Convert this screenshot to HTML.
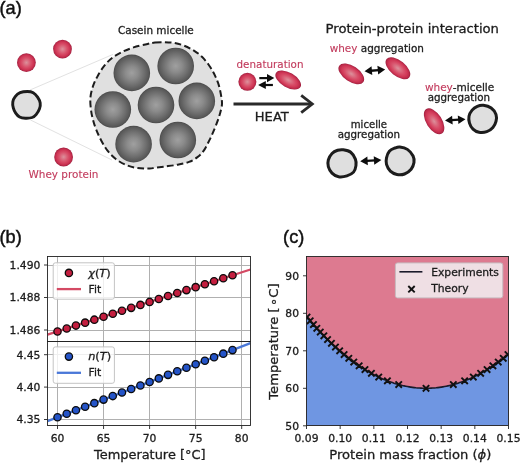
<!DOCTYPE html>
<html lang="en"><head><meta charset="utf-8"><title>Figure</title>
<style>
html,body{margin:0;padding:0;background:#fff;}
body{width:520px;height:463px;overflow:hidden;}
svg{display:block;filter:blur(0.45px);}
text{font-family:"DejaVu Sans","Liberation Sans",sans-serif;stroke-width:0.3px;}
text[stroke="#c23a5c"],tspan[stroke="#c23a5c"]{stroke-width:0.12px;}
.lab{font-family:"Liberation Sans",sans-serif;font-size:18.2px;fill:#111;stroke:#111;stroke-width:0.45px;}
</style></head><body>
<svg width="520" height="463" viewBox="0 0 520 463">
<defs>
<radialGradient id="gr" cx="50%" cy="50%" r="50%">
<stop offset="0" stop-color="#dc919c"/><stop offset="0.2" stop-color="#db7788"/><stop offset="0.5" stop-color="#d8506a"/><stop offset="0.75" stop-color="#d03756"/><stop offset="0.9" stop-color="#bc2a4a"/><stop offset="1" stop-color="#9c1f3e"/>
</radialGradient>
<radialGradient id="gg" cx="50%" cy="50%" r="50%">
<stop offset="0" stop-color="#a0a0a0"/><stop offset="0.35" stop-color="#8b8b8b"/><stop offset="0.7" stop-color="#6d6d6d"/><stop offset="0.93" stop-color="#585858"/><stop offset="1" stop-color="#484848"/>
</radialGradient>
<clipPath id="cb1"><rect x="47.5" y="256.5" width="203" height="85"/></clipPath>
<clipPath id="cb2"><rect x="47.5" y="341.5" width="203" height="84"/></clipPath>
<clipPath id="cc"><rect x="306.5" y="256.5" width="202" height="169"/></clipPath>
</defs>
<rect width="520" height="463" fill="#fff"/>

<text class="lab" x="-0.5" y="14.3">(a)</text>
<path d="M30 90 L113 54.4 M30.5 120 L112 160" stroke="#e2e2e2" stroke-width="1" fill="none"/>
<circle cx="26.4" cy="62.6" r="9.4" fill="url(#gr)"/>
<circle cx="62.5" cy="49.1" r="9.4" fill="url(#gr)"/>
<circle cx="63.6" cy="157" r="9.4" fill="url(#gr)"/>
<text x="28.5" y="177.7" font-size="10.6" fill="#c23a5c" stroke="#c23a5c" textLength="70" lengthAdjust="spacingAndGlyphs">Whey protein</text>
<path d="M27.40 91.50 C29.58 91.50 31.50 91.77 33.20 92.70 C34.90 93.63 36.43 95.40 37.60 97.10 C38.77 98.80 39.88 100.95 40.20 102.90 C40.52 104.85 40.18 106.85 39.50 108.80 C38.82 110.75 37.32 113.15 36.10 114.60 C34.88 116.05 33.98 116.90 32.20 117.50 C30.42 118.10 27.50 118.28 25.40 118.20 C23.30 118.12 21.22 117.85 19.60 117.00 C17.98 116.15 16.75 114.63 15.70 113.10 C14.65 111.57 13.78 109.67 13.30 107.80 C12.82 105.93 12.48 103.77 12.80 101.90 C13.12 100.03 13.98 98.13 15.20 96.60 C16.42 95.07 18.07 93.55 20.10 92.70 C22.13 91.85 25.22 91.50 27.40 91.50 Z" fill="#dfdfdf" stroke="#1c1c1c" stroke-width="2.9" stroke-linejoin="round"/>
<g transform="translate(0 0.7)">
<path d="M155.00 41.80 C158.02 41.47 161.47 41.42 164.70 41.50 C167.93 41.58 171.15 41.72 174.40 42.30 C177.65 42.88 180.95 43.73 184.20 45.00 C187.45 46.27 190.93 48.05 193.90 49.90 C196.87 51.75 199.43 53.58 202.00 56.10 C204.57 58.62 207.15 61.90 209.30 65.00 C211.45 68.10 213.28 71.33 214.90 74.70 C216.52 78.07 217.92 81.55 219.00 85.20 C220.08 88.85 220.90 93.63 221.40 96.60 C221.90 99.57 222.05 101.00 222.00 103.00 C221.95 105.00 221.68 106.13 221.10 108.60 C220.52 111.07 219.67 114.37 218.50 117.80 C217.33 121.23 215.63 125.55 214.10 129.20 C212.57 132.85 211.05 136.20 209.30 139.70 C207.55 143.20 205.63 147.37 203.60 150.20 C201.57 153.03 199.53 154.87 197.10 156.70 C194.67 158.53 192.23 159.98 189.00 161.20 C185.77 162.42 181.75 163.23 177.70 164.00 C173.65 164.77 168.48 165.30 164.70 165.80 C160.92 166.30 157.48 166.67 155.00 167.00 C152.52 167.33 152.83 167.77 149.80 167.80 C146.77 167.83 140.85 167.83 136.80 167.20 C132.75 166.57 129.00 165.48 125.50 164.00 C122.00 162.52 118.77 160.60 115.80 158.30 C112.83 156.00 110.13 153.30 107.70 150.20 C105.27 147.10 103.10 143.20 101.20 139.70 C99.30 136.20 97.65 132.58 96.30 129.20 C94.95 125.82 93.98 122.73 93.10 119.40 C92.22 116.07 91.45 112.93 91.00 109.20 C90.55 105.47 90.05 101.00 90.40 97.00 C90.75 93.00 91.83 88.92 93.10 85.20 C94.37 81.48 96.12 78.07 98.00 74.70 C99.88 71.33 101.98 67.97 104.40 65.00 C106.82 62.03 109.52 59.20 112.50 56.90 C115.48 54.60 118.78 52.90 122.30 51.20 C125.82 49.50 129.55 47.98 133.60 46.70 C137.65 45.42 143.03 44.32 146.60 43.50 C150.17 42.68 151.98 42.13 155.00 41.80 Z" fill="#e0e0e0" stroke="#1c1c1c" stroke-width="2" stroke-dasharray="6.6 3.3"/>
<circle cx="131.8" cy="72.2" r="18.3" fill="url(#gg)"/>
<circle cx="175.7" cy="65.3" r="18.3" fill="url(#gg)"/>
<circle cx="112.8" cy="108.8" r="18.3" fill="url(#gg)"/>
<circle cx="156" cy="104.3" r="18.3" fill="url(#gg)"/>
<circle cx="196.8" cy="100.2" r="18.3" fill="url(#gg)"/>
<circle cx="133.6" cy="143.4" r="18.3" fill="url(#gg)"/>
<circle cx="177.8" cy="139.3" r="18.3" fill="url(#gg)"/>
</g>
<text x="118" y="33.7" font-size="10.6" fill="#1c1c1c" stroke="#1c1c1c" textLength="75.8" lengthAdjust="spacingAndGlyphs">Casein micelle</text>
<text x="236.5" y="67.7" font-size="10.8" fill="#c23a5c" stroke="#c23a5c" textLength="67" lengthAdjust="spacingAndGlyphs">denaturation</text>
<circle cx="247.4" cy="81.8" r="9" fill="url(#gr)"/>
<ellipse cx="0" cy="0" rx="14.2" ry="7.4" fill="url(#gr)" transform="translate(288.2 80.0) rotate(30)"/>
<path d="M259.3 78.1 H268" stroke="#0d0d0d" stroke-width="2.2" fill="none"/><path d="M274.3 78.1 L267 74 V82.2 Z" fill="#0d0d0d"/>
<path d="M272.9 85 H265" stroke="#0d0d0d" stroke-width="2.2" fill="none"/><path d="M258.1 85 L265.8 80.9 V89.1 Z" fill="#0d0d0d"/>
<path d="M233.5 104 H311" stroke="#2a2a2a" stroke-width="2.8" fill="none"/>
<path d="M301.2 95.3 L312.3 104 L301.2 112.7" stroke="#2a2a2a" stroke-width="2.8" fill="none" stroke-linejoin="miter"/>
<text x="254.8" y="120.6" font-size="12.8" fill="#1c1c1c" stroke="#1c1c1c" textLength="34" lengthAdjust="spacingAndGlyphs">HEAT</text>
<text x="325.6" y="33.4" font-size="13.1" fill="#1c1c1c" stroke="#1c1c1c" textLength="173.4" lengthAdjust="spacingAndGlyphs">Protein-protein interaction</text>
<text x="329.7" y="51.5" font-size="10.6" fill="#1c1c1c" stroke="#1c1c1c" textLength="94.2" lengthAdjust="spacingAndGlyphs"><tspan fill="#c23a5c" stroke="#c23a5c">whey</tspan> aggregation</text>
<ellipse cx="0" cy="0" rx="14.6" ry="7.8" fill="url(#gr)" transform="translate(351.3 73.8) rotate(34)"/>
<ellipse cx="0" cy="0" rx="14.6" ry="7.8" fill="url(#gr)" transform="translate(397.9 68.3) rotate(39)"/>
<g transform="rotate(-5 374.85 70.4)"><path d="M370.9 70.4 H378.8" stroke="#0d0d0d" stroke-width="2.3" fill="none"/><path d="M364.5 70.4 L371.9 66.10000000000001 V74.7 Z M385.2 70.4 L377.8 66.10000000000001 V74.7 Z" fill="#0d0d0d"/></g>
<text x="424.9" y="91" font-size="10.6" fill="#1c1c1c" stroke="#1c1c1c" textLength="69.3" lengthAdjust="spacingAndGlyphs"><tspan fill="#c23a5c" stroke="#c23a5c">whey</tspan>-micelle</text>
<text x="427.7" y="101" font-size="10.6" fill="#1c1c1c" stroke="#1c1c1c" textLength="62.3" lengthAdjust="spacingAndGlyphs">aggregation</text>
<ellipse cx="0" cy="0" rx="14.6" ry="7.8" fill="url(#gr)" transform="translate(434.1 121.3) rotate(57.5)"/>
<g transform="rotate(-4 455.25 119.9)"><path d="M451.4 119.9 H459.1" stroke="#0d0d0d" stroke-width="2.3" fill="none"/><path d="M445 119.9 L452.4 115.60000000000001 V124.2 Z M465.5 119.9 L458.1 115.60000000000001 V124.2 Z" fill="#0d0d0d"/></g>
<path d="M483.40 105.30 C485.72 105.58 489.10 106.48 491.20 108.00 C493.30 109.52 495.20 112.17 496.00 114.40 C496.80 116.63 496.52 119.23 496.00 121.40 C495.48 123.57 494.43 125.68 492.90 127.40 C491.37 129.12 489.12 130.88 486.80 131.70 C484.48 132.52 481.30 132.72 479.00 132.30 C476.70 131.88 474.58 130.73 473.00 129.20 C471.42 127.67 470.17 125.27 469.50 123.10 C468.83 120.93 468.57 118.37 469.00 116.20 C469.43 114.03 470.72 111.75 472.10 110.10 C473.48 108.45 475.42 107.10 477.30 106.30 C479.18 105.50 481.08 105.02 483.40 105.30 Z" fill="#dfdfdf" stroke="#1c1c1c" stroke-width="3.0" stroke-linejoin="round"/>
<text x="350.8" y="128" font-size="10.6" fill="#1c1c1c" stroke="#1c1c1c" textLength="36.2" lengthAdjust="spacingAndGlyphs">micelle</text>
<text x="337.7" y="137.8" font-size="10.6" fill="#1c1c1c" stroke="#1c1c1c" textLength="62.3" lengthAdjust="spacingAndGlyphs">aggregation</text>
<path d="M343.26 149.81 C345.44 150.13 348.71 150.68 350.73 152.23 C352.75 153.78 354.51 156.89 355.38 159.12 C356.26 161.35 356.27 163.45 355.96 165.62 C355.66 167.78 355.04 170.40 353.54 172.12 C352.04 173.83 349.43 175.12 346.94 175.90 C344.45 176.67 341.09 177.24 338.60 176.77 C336.11 176.30 333.72 174.78 332.01 173.09 C330.29 171.39 328.93 168.77 328.32 166.59 C327.71 164.40 327.71 162.17 328.32 159.99 C328.93 157.81 330.45 155.11 332.01 153.49 C333.56 151.87 335.76 150.90 337.63 150.29 C339.51 149.68 341.08 149.48 343.26 149.81 Z" fill="#dfdfdf" stroke="#1c1c1c" stroke-width="3.0" stroke-linejoin="round"/>
<path d="M399.80 147.00 C401.85 147.23 405.16 147.87 407.38 149.37 C409.60 150.86 411.99 153.77 413.09 155.97 C414.19 158.17 414.31 160.37 413.98 162.57 C413.65 164.77 412.70 167.26 411.12 169.17 C409.55 171.07 406.89 173.11 404.52 173.99 C402.16 174.88 399.30 174.96 396.94 174.49 C394.58 174.01 392.08 172.81 390.34 171.14 C388.60 169.46 387.14 166.66 386.50 164.44 C385.86 162.22 386.02 160.04 386.50 157.84 C386.97 155.64 387.93 152.88 389.36 151.24 C390.78 149.60 393.33 148.70 395.07 147.99 C396.81 147.28 397.74 146.77 399.80 147.00 Z" fill="#dfdfdf" stroke="#1c1c1c" stroke-width="3.0" stroke-linejoin="round"/>
<g transform="rotate(-3.5 370.80 160.7)"><path d="M366.59999999999997 160.7 H375.0" stroke="#0d0d0d" stroke-width="2.3" fill="none"/><path d="M360.2 160.7 L367.59999999999997 156.39999999999998 V165.0 Z M381.4 160.7 L374.0 156.39999999999998 V165.0 Z" fill="#0d0d0d"/></g>
<text class="lab" x="-0.5" y="243.4">(b)</text>
<path d="M57.5 256.5 V425.5 M103.5 256.5 V425.5 M149.5 256.5 V425.5 M195.5 256.5 V425.5 M241.5 256.5 V425.5 M47.5 330.5 H250.5 M47.5 297.5 H250.5 M47.5 265.5 H250.5 M47.5 419.5 H250.5 M47.5 387.5 H250.5 M47.5 354.5 H250.5 " stroke="#b0b0b0" stroke-width="1" fill="none"/>
<path d="M47.5 334.71 L250.5 269.52" stroke="#d44a64" stroke-width="2.3" clip-path="url(#cb1)"/>
<path d="M47.5 421.14 L250.5 343.19" stroke="#4a78d8" stroke-width="2.3" clip-path="url(#cb2)"/>
<circle cx="57.50" cy="331.50" r="3.65" fill="#c41e3f" stroke="#0c0c0c" stroke-width="1.3"/>
<circle cx="66.71" cy="328.54" r="3.65" fill="#c41e3f" stroke="#0c0c0c" stroke-width="1.3"/>
<circle cx="75.92" cy="325.58" r="3.65" fill="#c41e3f" stroke="#0c0c0c" stroke-width="1.3"/>
<circle cx="85.13" cy="322.63" r="3.65" fill="#c41e3f" stroke="#0c0c0c" stroke-width="1.3"/>
<circle cx="94.34" cy="319.67" r="3.65" fill="#c41e3f" stroke="#0c0c0c" stroke-width="1.3"/>
<circle cx="103.55" cy="316.71" r="3.65" fill="#c41e3f" stroke="#0c0c0c" stroke-width="1.3"/>
<circle cx="112.76" cy="313.75" r="3.65" fill="#c41e3f" stroke="#0c0c0c" stroke-width="1.3"/>
<circle cx="121.97" cy="310.80" r="3.65" fill="#c41e3f" stroke="#0c0c0c" stroke-width="1.3"/>
<circle cx="131.18" cy="307.84" r="3.65" fill="#c41e3f" stroke="#0c0c0c" stroke-width="1.3"/>
<circle cx="140.39" cy="304.88" r="3.65" fill="#c41e3f" stroke="#0c0c0c" stroke-width="1.3"/>
<circle cx="149.60" cy="301.92" r="3.65" fill="#c41e3f" stroke="#0c0c0c" stroke-width="1.3"/>
<circle cx="158.81" cy="298.97" r="3.65" fill="#c41e3f" stroke="#0c0c0c" stroke-width="1.3"/>
<circle cx="168.02" cy="296.01" r="3.65" fill="#c41e3f" stroke="#0c0c0c" stroke-width="1.3"/>
<circle cx="177.23" cy="293.05" r="3.65" fill="#c41e3f" stroke="#0c0c0c" stroke-width="1.3"/>
<circle cx="186.44" cy="290.09" r="3.65" fill="#c41e3f" stroke="#0c0c0c" stroke-width="1.3"/>
<circle cx="195.65" cy="287.13" r="3.65" fill="#c41e3f" stroke="#0c0c0c" stroke-width="1.3"/>
<circle cx="204.86" cy="284.18" r="3.65" fill="#c41e3f" stroke="#0c0c0c" stroke-width="1.3"/>
<circle cx="214.07" cy="281.22" r="3.65" fill="#c41e3f" stroke="#0c0c0c" stroke-width="1.3"/>
<circle cx="223.28" cy="278.26" r="3.65" fill="#c41e3f" stroke="#0c0c0c" stroke-width="1.3"/>
<circle cx="232.49" cy="275.30" r="3.65" fill="#c41e3f" stroke="#0c0c0c" stroke-width="1.3"/>
<circle cx="57.50" cy="417.30" r="3.65" fill="#2454c8" stroke="#0c0c0c" stroke-width="1.3"/>
<circle cx="66.71" cy="413.76" r="3.65" fill="#2454c8" stroke="#0c0c0c" stroke-width="1.3"/>
<circle cx="75.92" cy="410.23" r="3.65" fill="#2454c8" stroke="#0c0c0c" stroke-width="1.3"/>
<circle cx="85.13" cy="406.69" r="3.65" fill="#2454c8" stroke="#0c0c0c" stroke-width="1.3"/>
<circle cx="94.34" cy="403.15" r="3.65" fill="#2454c8" stroke="#0c0c0c" stroke-width="1.3"/>
<circle cx="103.55" cy="399.62" r="3.65" fill="#2454c8" stroke="#0c0c0c" stroke-width="1.3"/>
<circle cx="112.76" cy="396.08" r="3.65" fill="#2454c8" stroke="#0c0c0c" stroke-width="1.3"/>
<circle cx="121.97" cy="392.54" r="3.65" fill="#2454c8" stroke="#0c0c0c" stroke-width="1.3"/>
<circle cx="131.18" cy="389.01" r="3.65" fill="#2454c8" stroke="#0c0c0c" stroke-width="1.3"/>
<circle cx="140.39" cy="385.47" r="3.65" fill="#2454c8" stroke="#0c0c0c" stroke-width="1.3"/>
<circle cx="149.60" cy="381.93" r="3.65" fill="#2454c8" stroke="#0c0c0c" stroke-width="1.3"/>
<circle cx="158.81" cy="378.40" r="3.65" fill="#2454c8" stroke="#0c0c0c" stroke-width="1.3"/>
<circle cx="168.02" cy="374.86" r="3.65" fill="#2454c8" stroke="#0c0c0c" stroke-width="1.3"/>
<circle cx="177.23" cy="371.32" r="3.65" fill="#2454c8" stroke="#0c0c0c" stroke-width="1.3"/>
<circle cx="186.44" cy="367.79" r="3.65" fill="#2454c8" stroke="#0c0c0c" stroke-width="1.3"/>
<circle cx="195.65" cy="364.25" r="3.65" fill="#2454c8" stroke="#0c0c0c" stroke-width="1.3"/>
<circle cx="204.86" cy="360.71" r="3.65" fill="#2454c8" stroke="#0c0c0c" stroke-width="1.3"/>
<circle cx="214.07" cy="357.18" r="3.65" fill="#2454c8" stroke="#0c0c0c" stroke-width="1.3"/>
<circle cx="223.28" cy="353.64" r="3.65" fill="#2454c8" stroke="#0c0c0c" stroke-width="1.3"/>
<circle cx="232.49" cy="350.10" r="3.65" fill="#2454c8" stroke="#0c0c0c" stroke-width="1.3"/>
<rect x="47.5" y="256.5" width="203.0" height="85.0" fill="none" stroke="#222" stroke-width="0.9"/>
<rect x="47.5" y="341.5" width="203.0" height="84.0" fill="none" stroke="#222" stroke-width="0.9"/>
<path d="M47.5 330.00 h-3.5 M47.5 297.50 h-3.5 M47.5 265.00 h-3.5 M47.5 419.50 h-3.5 M47.5 387.10 h-3.5 M47.5 354.70 h-3.5 M57.50 425.5 v3.5 M103.55 425.5 v3.5 M149.60 425.5 v3.5 M195.65 425.5 v3.5 M241.70 425.5 v3.5 " stroke="#222" stroke-width="0.9" fill="none"/>
<text x="40.4" y="333.90" font-size="10.75" fill="#1c1c1c" stroke="#1c1c1c" text-anchor="end">1.486</text>
<text x="40.4" y="301.40" font-size="10.75" fill="#1c1c1c" stroke="#1c1c1c" text-anchor="end">1.488</text>
<text x="40.4" y="268.90" font-size="10.75" fill="#1c1c1c" stroke="#1c1c1c" text-anchor="end">1.490</text>
<text x="40.4" y="423.40" font-size="10.75" fill="#1c1c1c" stroke="#1c1c1c" text-anchor="end">4.35</text>
<text x="40.4" y="391.00" font-size="10.75" fill="#1c1c1c" stroke="#1c1c1c" text-anchor="end">4.40</text>
<text x="40.4" y="358.60" font-size="10.75" fill="#1c1c1c" stroke="#1c1c1c" text-anchor="end">4.45</text>
<text x="57.50" y="441.9" font-size="10.75" fill="#1c1c1c" stroke="#1c1c1c" text-anchor="middle">60</text>
<text x="103.55" y="441.9" font-size="10.75" fill="#1c1c1c" stroke="#1c1c1c" text-anchor="middle">65</text>
<text x="149.60" y="441.9" font-size="10.75" fill="#1c1c1c" stroke="#1c1c1c" text-anchor="middle">70</text>
<text x="195.65" y="441.9" font-size="10.75" fill="#1c1c1c" stroke="#1c1c1c" text-anchor="middle">75</text>
<text x="241.70" y="441.9" font-size="10.75" fill="#1c1c1c" stroke="#1c1c1c" text-anchor="middle">80</text>
<text x="94" y="458.5" font-size="13" fill="#1c1c1c" stroke="#1c1c1c" textLength="111.5" lengthAdjust="spacingAndGlyphs">Temperature [°C]</text>
<rect x="53.2" y="262.8" width="61.2" height="36.4" rx="2.2" fill="#fff" fill-opacity="0.8" stroke="#c4c4c4" stroke-width="1"/><circle cx="68.9" cy="272.90000000000003" r="3.65" fill="#c41e3f" stroke="#0c0c0c" stroke-width="1.3"/><path d="M56.800000000000004 289.1 h24.2" stroke="#d44a64" stroke-width="2.3"/><text x="88.2" y="276.70000000000005" font-size="11.3" fill="#1c1c1c" stroke="#1c1c1c"><tspan font-style="italic">χ</tspan>(<tspan font-style="italic">T</tspan>)</text><text x="88.5" y="292.5" font-size="10.75" fill="#1c1c1c" stroke="#1c1c1c">Fit</text>
<rect x="53.2" y="346.9" width="61.2" height="36.4" rx="2.2" fill="#fff" fill-opacity="0.8" stroke="#c4c4c4" stroke-width="1"/><circle cx="68.9" cy="356.59999999999997" r="3.65" fill="#2454c8" stroke="#0c0c0c" stroke-width="1.3"/><path d="M56.800000000000004 372.79999999999995 h24.2" stroke="#4a78d8" stroke-width="2.3"/><text x="88.2" y="360.4" font-size="11.3" fill="#1c1c1c" stroke="#1c1c1c"><tspan font-style="italic">n</tspan>(<tspan font-style="italic">T</tspan>)</text><text x="88.5" y="376.19999999999993" font-size="10.75" fill="#1c1c1c" stroke="#1c1c1c">Fit</text>
<text class="lab" x="283.1" y="243.4">(c)</text>
<rect x="306.5" y="256.5" width="202.0" height="169.0" fill="#dd7a90"/>
<path d="M306.50 316.47 308.18 318.48 309.87 320.46 311.55 322.41 313.23 324.33 314.92 326.23 316.60 328.09 318.28 329.93 319.97 331.74 321.65 333.52 323.33 335.28 325.02 337.00 326.70 338.70 328.38 340.36 330.07 342.00 331.75 343.61 333.43 345.19 335.12 346.75 336.80 348.27 338.48 349.77 340.17 351.24 341.85 352.68 343.53 354.09 345.22 355.47 346.90 356.82 348.58 358.15 350.27 359.44 351.95 360.71 353.63 361.95 355.32 363.16 357.00 364.35 358.68 365.50 360.37 366.63 362.05 367.72 363.73 368.79 365.42 369.83 367.10 370.84 368.78 371.83 370.47 372.78 372.15 373.71 373.83 374.61 375.52 375.48 377.20 376.32 378.88 377.13 380.57 377.91 382.25 378.67 383.93 379.39 385.62 380.09 387.30 380.76 388.98 381.40 390.67 382.02 392.35 382.60 394.03 383.16 395.72 383.68 397.40 384.18 399.08 384.65 400.77 385.09 402.45 385.51 404.13 385.89 405.82 386.25 407.50 386.58 409.18 386.88 410.87 387.15 412.55 387.39 414.23 387.60 415.92 387.79 417.60 387.94 419.28 388.07 420.97 388.17 422.65 388.24 424.33 388.29 426.02 388.30 427.70 388.29 429.38 388.24 431.07 388.17 432.75 388.07 434.43 387.94 436.12 387.79 437.80 387.60 439.48 387.39 441.17 387.15 442.85 386.88 444.53 386.58 446.22 386.25 447.90 385.89 449.58 385.51 451.27 385.09 452.95 384.65 454.63 384.18 456.32 383.68 458.00 383.16 459.68 382.60 461.37 382.02 463.05 381.40 464.73 380.76 466.42 380.09 468.10 379.39 469.78 378.67 471.47 377.91 473.15 377.13 474.84 376.32 476.52 375.47 478.20 374.61 479.89 373.71 481.57 372.78 483.25 371.83 484.94 370.84 486.62 369.83 488.30 368.79 489.99 367.72 491.67 366.63 493.35 365.50 495.04 364.35 496.72 363.16 498.40 361.95 500.09 360.71 501.77 359.44 503.45 358.15 505.14 356.82 506.82 355.47 508.50 354.09 L508.5 425.5 L306.5 425.5 Z" fill="#6f96e2"/>
<path d="M306.50 316.47 308.18 318.48 309.87 320.46 311.55 322.41 313.23 324.33 314.92 326.23 316.60 328.09 318.28 329.93 319.97 331.74 321.65 333.52 323.33 335.28 325.02 337.00 326.70 338.70 328.38 340.36 330.07 342.00 331.75 343.61 333.43 345.19 335.12 346.75 336.80 348.27 338.48 349.77 340.17 351.24 341.85 352.68 343.53 354.09 345.22 355.47 346.90 356.82 348.58 358.15 350.27 359.44 351.95 360.71 353.63 361.95 355.32 363.16 357.00 364.35 358.68 365.50 360.37 366.63 362.05 367.72 363.73 368.79 365.42 369.83 367.10 370.84 368.78 371.83 370.47 372.78 372.15 373.71 373.83 374.61 375.52 375.48 377.20 376.32 378.88 377.13 380.57 377.91 382.25 378.67 383.93 379.39 385.62 380.09 387.30 380.76 388.98 381.40 390.67 382.02 392.35 382.60 394.03 383.16 395.72 383.68 397.40 384.18 399.08 384.65 400.77 385.09 402.45 385.51 404.13 385.89 405.82 386.25 407.50 386.58 409.18 386.88 410.87 387.15 412.55 387.39 414.23 387.60 415.92 387.79 417.60 387.94 419.28 388.07 420.97 388.17 422.65 388.24 424.33 388.29 426.02 388.30 427.70 388.29 429.38 388.24 431.07 388.17 432.75 388.07 434.43 387.94 436.12 387.79 437.80 387.60 439.48 387.39 441.17 387.15 442.85 386.88 444.53 386.58 446.22 386.25 447.90 385.89 449.58 385.51 451.27 385.09 452.95 384.65 454.63 384.18 456.32 383.68 458.00 383.16 459.68 382.60 461.37 382.02 463.05 381.40 464.73 380.76 466.42 380.09 468.10 379.39 469.78 378.67 471.47 377.91 473.15 377.13 474.84 376.32 476.52 375.47 478.20 374.61 479.89 373.71 481.57 372.78 483.25 371.83 484.94 370.84 486.62 369.83 488.30 368.79 489.99 367.72 491.67 366.63 493.35 365.50 495.04 364.35 496.72 363.16 498.40 361.95 500.09 360.71 501.77 359.44 503.45 358.15 505.14 356.82 506.82 355.47 508.50 354.09" fill="none" stroke="#1a1a2a" stroke-width="1.6"/>
<path d="M422.82 385.10 l6.4 6.4 M422.82 391.50 l6.4 -6.4 M395.51 381.35 l6.4 6.4 M395.51 387.75 l6.4 -6.4 M450.13 381.35 l6.4 6.4 M450.13 387.75 l6.4 -6.4 M384.20 377.60 l6.4 6.4 M384.20 384.00 l6.4 -6.4 M461.44 377.60 l6.4 6.4 M461.44 384.00 l6.4 -6.4 M375.52 373.85 l6.4 6.4 M375.52 380.25 l6.4 -6.4 M470.12 373.85 l6.4 6.4 M470.12 380.25 l6.4 -6.4 M368.20 370.10 l6.4 6.4 M368.20 376.50 l6.4 -6.4 M477.43 370.10 l6.4 6.4 M477.43 376.50 l6.4 -6.4 M361.76 366.35 l6.4 6.4 M361.76 372.75 l6.4 -6.4 M483.88 366.35 l6.4 6.4 M483.88 372.75 l6.4 -6.4 M355.93 362.60 l6.4 6.4 M355.93 369.00 l6.4 -6.4 M489.71 362.60 l6.4 6.4 M489.71 369.00 l6.4 -6.4 M350.57 358.85 l6.4 6.4 M350.57 365.25 l6.4 -6.4 M495.07 358.85 l6.4 6.4 M495.07 365.25 l6.4 -6.4 M345.58 355.10 l6.4 6.4 M345.58 361.50 l6.4 -6.4 M500.06 355.10 l6.4 6.4 M500.06 361.50 l6.4 -6.4 M340.90 351.35 l6.4 6.4 M340.90 357.75 l6.4 -6.4 M504.74 351.35 l6.4 6.4 M504.74 357.75 l6.4 -6.4 M336.46 347.60 l6.4 6.4 M336.46 354.00 l6.4 -6.4 M332.25 343.85 l6.4 6.4 M332.25 350.25 l6.4 -6.4 M328.22 340.10 l6.4 6.4 M328.22 346.50 l6.4 -6.4 M324.36 336.35 l6.4 6.4 M324.36 342.75 l6.4 -6.4 M320.64 332.60 l6.4 6.4 M320.64 339.00 l6.4 -6.4 M317.06 328.85 l6.4 6.4 M317.06 335.25 l6.4 -6.4 M313.59 325.10 l6.4 6.4 M313.59 331.50 l6.4 -6.4 M310.23 321.35 l6.4 6.4 M310.23 327.75 l6.4 -6.4 M306.96 317.60 l6.4 6.4 M306.96 324.00 l6.4 -6.4 M303.79 313.85 l6.4 6.4 M303.79 320.25 l6.4 -6.4 " stroke="#111" stroke-width="1.9" fill="none" clip-path="url(#cc)"/>
<rect x="306.5" y="256.5" width="202.0" height="169.0" fill="none" stroke="#222" stroke-width="0.9"/>
<path d="M306.5 425.80 h-3.5 M306.5 388.30 h-3.5 M306.5 350.80 h-3.5 M306.5 313.30 h-3.5 M306.5 275.80 h-3.5 M306.50 425.5 v3.5 M340.17 425.5 v3.5 M373.83 425.5 v3.5 M407.50 425.5 v3.5 M441.17 425.5 v3.5 M474.84 425.5 v3.5 M508.50 425.5 v3.5 " stroke="#222" stroke-width="0.9" fill="none"/>
<text x="299" y="429.70" font-size="10.75" fill="#1c1c1c" stroke="#1c1c1c" text-anchor="end">50</text>
<text x="299" y="392.20" font-size="10.75" fill="#1c1c1c" stroke="#1c1c1c" text-anchor="end">60</text>
<text x="299" y="354.70" font-size="10.75" fill="#1c1c1c" stroke="#1c1c1c" text-anchor="end">70</text>
<text x="299" y="317.20" font-size="10.75" fill="#1c1c1c" stroke="#1c1c1c" text-anchor="end">80</text>
<text x="299" y="279.70" font-size="10.75" fill="#1c1c1c" stroke="#1c1c1c" text-anchor="end">90</text>
<text x="306.50" y="441.9" font-size="10.75" fill="#1c1c1c" stroke="#1c1c1c" text-anchor="middle">0.09</text>
<text x="340.17" y="441.9" font-size="10.75" fill="#1c1c1c" stroke="#1c1c1c" text-anchor="middle">0.10</text>
<text x="373.83" y="441.9" font-size="10.75" fill="#1c1c1c" stroke="#1c1c1c" text-anchor="middle">0.11</text>
<text x="407.50" y="441.9" font-size="10.75" fill="#1c1c1c" stroke="#1c1c1c" text-anchor="middle">0.12</text>
<text x="441.17" y="441.9" font-size="10.75" fill="#1c1c1c" stroke="#1c1c1c" text-anchor="middle">0.13</text>
<text x="474.84" y="441.9" font-size="10.75" fill="#1c1c1c" stroke="#1c1c1c" text-anchor="middle">0.14</text>
<text x="508.50" y="441.9" font-size="10.75" fill="#1c1c1c" stroke="#1c1c1c" text-anchor="middle">0.15</text>
<text x="329.3" y="458.8" font-size="13" fill="#1c1c1c" stroke="#1c1c1c" textLength="162" lengthAdjust="spacingAndGlyphs">Protein mass fraction (<tspan font-style="italic">ϕ</tspan>)</text>
<text transform="translate(278 399.7) rotate(-90)" font-size="13.1" fill="#1c1c1c" stroke="#1c1c1c">Temperature [<tspan dx="1.6">∘</tspan>C]</text>
<rect x="395.4" y="262.9" width="107.4" height="35" rx="2.2" fill="#efdfe4" stroke="#c6babf" stroke-width="1"/>
<path d="M399.4 271.8 h23" stroke="#1a1a2a" stroke-width="1.6"/>
<path d="M408.30 286.00 l6.4 6.4 M408.30 292.40 l6.4 -6.4 " stroke="#111" stroke-width="1.9" fill="none"/>
<text x="431.2" y="275.6" font-size="10.75" fill="#1c1c1c" stroke="#1c1c1c">Experiments</text>
<text x="431.2" y="291.8" font-size="10.75" fill="#1c1c1c" stroke="#1c1c1c">Theory</text>
</svg></body></html>
